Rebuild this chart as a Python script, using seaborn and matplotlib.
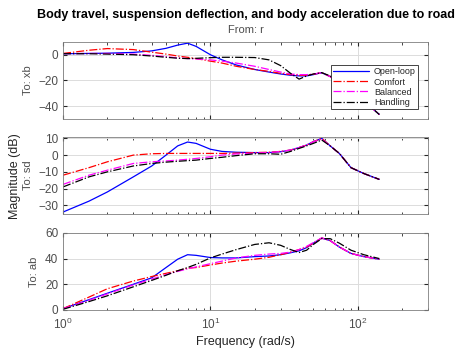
import matplotlib
matplotlib.use("Agg")
import matplotlib.pyplot as plt
import seaborn as sns
from matplotlib.ticker import LogLocator, NullFormatter

# frequencies (rad/s) shared by all curves
freq = [1, 1.5, 2, 3, 4, 5, 6, 7, 8, 10, 12, 15, 20, 25, 30, 35, 40, 45,
        50, 57, 65, 75, 90, 110, 140]

designs = ['Open-loop', 'Comfort', 'Balanced', 'Handling']

# body travel xb (dB)
xb_open = [0.8, 1, 1.2, 1.8, 3, 5, 7.5, 9, 6.5, 0, -4, -8, -11.5, -13.5, -15, -16,
           -16.5, -16.5, -15.5, -14, -17, -22, -29, -36, -46.5]
xb_comfort = [1, 3.5, 4.8, 4, 2, 0.5, -1, -2, -3, -5, -6.5, -9, -11.5, -13, -14.5, -15.5,
              -16, -16, -15.2, -14, -17, -22, -29, -36, -46.5]
xb_balanced = [0.8, 1, 1, 0.5, -0.5, -1.5, -2.5, -3, -3.3, -4, -5, -6.5, -9, -11.5, -13.5, -15,
               -15.5, -15.5, -15, -14, -17, -22, -29, -36, -46.5]
xb_handling = [0.8, 0.8, 0.5, 0, -1, -2, -2.7, -3, -2.8, -2.3, -2, -2, -2.2, -4, -8.5, -14.5,
               -19, -16.5, -15, -14, -16.5, -22, -29, -36, -46.5]

# suspension deflection sd (dB)
sd_open = [-34, -27.5, -22, -13, -6.5, 0, 5.5, 7.8, 7, 3.5, 2.2, 1.7, 1.5, 1.5, 2, 3,
           4.5, 6, 8, 10, 5.5, 1, -7.5, -11, -14.5]
sd_comfort = [-12, -7.5, -4, 0, 0.8, 1, 1, 1, 1, 1, 1, 1.2, 1.5, 1.7, 2.2, 3,
              4.5, 6, 8, 10, 5.5, 1, -7.5, -11, -14.5]
sd_balanced = [-17.5, -12, -9, -5, -4, -3.5, -3, -2.5, -2, -1, 0, 0.7, 1.2, 1.5, 2.2, 3,
               4.5, 6, 8, 9.5, 5.5, 1, -7.5, -11, -14.5]
sd_handling = [-19, -13, -10, -6.5, -5, -4.2, -3.7, -3.3, -3, -2, -1.3, -0.3, 0.8, 0.8, 0.5, 2.2,
               4, 5.5, 7, 9, 5.5, 1, -7.5, -11, -14.5]

# body acceleration ab (dB)
ab_open = [1, 8, 13, 20, 25, 33, 39.5, 43, 42.5, 40.8, 40.5, 40.5, 41.5, 42, 43, 44.5,
           46, 48.5, 52, 56, 54, 49, 44, 41.5, 39.5]
ab_comfort = [1, 10, 16.5, 22.5, 26, 28.5, 30.5, 32.5, 33, 35, 36.5, 38, 39.5, 41, 43, 45,
              47, 49, 52, 56, 54, 49, 44, 41.5, 39.5]
ab_balanced = [1, 7.5, 12.5, 19.5, 24, 27.5, 30, 32, 33.5, 36, 38, 40.5, 42.5, 43.5, 44, 45,
               47, 49.5, 52.5, 56, 54, 49, 44, 41.5, 39.5]
ab_handling = [0.5, 6.5, 11, 18, 23, 27, 30.5, 33, 35.5, 40.5, 43.5, 47, 51, 52.3, 50.3, 47,
               44.7, 46.5, 51, 55.5, 55.5, 52, 46.5, 43, 40]

panels = [
    ('To: xb', [xb_open, xb_comfort, xb_balanced, xb_handling], (-50, 10), [-40, -20, 0]),
    ('To: sd', [sd_open, sd_comfort, sd_balanced, sd_handling], (-35, 11), [-30, -20, -10, 0, 10]),
    ('To: ab', [ab_open, ab_comfort, ab_balanced, ab_handling], (0, 60), [0, 20, 40, 60]),
]

colors = ['#0000ff', '#ff0000', '#ff00ff', '#000000']
styles = ['-', '-.', '-.', '-.']

sns.set_style('ticks')
plt.rcParams['font.family'] = ['Liberation Sans', 'DejaVu Sans']

fig = plt.figure(figsize=(4.74, 3.55), dpi=100)
tops = [0.882, 0.615, 0.344]
h = 0.217
gray = '#4d4d4d'

for i, (lab, series, ylim, yticks) in enumerate(panels):
    ax = fig.add_axes([0.133, tops[i] - h, 0.770, h])
    for name, vals, c, ls in zip(designs, series, colors, styles):
        sns.lineplot(x=freq, y=vals, ax=ax, color=c, linestyle=ls, lw=0.9, label=name)
    ax.set_xscale('log')
    ax.set_xlim(1, 300)
    ax.set_ylim(*ylim)
    ax.set_yticks(yticks)
    ax.xaxis.set_major_locator(LogLocator(base=10, numticks=5))
    ax.xaxis.set_minor_locator(LogLocator(base=10, subs=range(2, 10), numticks=20))
    ax.xaxis.set_minor_formatter(NullFormatter())
    ax.grid(True, which='major', color='#dcdcdc', lw=0.7)
    ax.tick_params(which='both', direction='in', top=True, right=True, colors='#262626',
                   labelcolor=gray, labelsize=8.5, length=3)
    ax.tick_params(which='minor', length=1.8)
    ax.tick_params(axis='x', pad=5)
    for sp in ax.spines.values():
        sp.set_color('#7f7f7f')
        sp.set_linewidth(0.6)
    ax.set_ylabel(lab, color=gray, fontsize=8, labelpad=4)
    ax.set_xlabel('')
    if i < 2:
        ax.set_xticklabels([])
    if i == 0:
        leg = ax.legend(loc='lower right', fontsize=6.5, handlelength=4.0, borderaxespad=1.1,
                        frameon=True, fancybox=False, borderpad=0.25, labelspacing=0.12,
                        handletextpad=0.5, edgecolor='#262626', framealpha=1)
        leg.get_frame().set_linewidth(0.6)
        for t in leg.get_texts():
            t.set_color('#262626')
    else:
        ax.get_legend().remove()

fig.text(0.518, 0.958, 'Body travel, suspension deflection, and body acceleration due to road',
         ha='center', va='center', fontsize=9, fontweight='bold', color='#000000')
fig.text(0.518, 0.915, 'From: r', ha='center', va='center', fontsize=8, color=gray)
fig.text(0.032, 0.505, 'Magnitude (dB)', ha='center', va='center', rotation=90,
         fontsize=9, color='#262626')
fig.text(0.518, 0.036, 'Frequency (rad/s)', ha='center', va='center', fontsize=9, color='#262626')

fig.savefig('out.png', dpi=100)
